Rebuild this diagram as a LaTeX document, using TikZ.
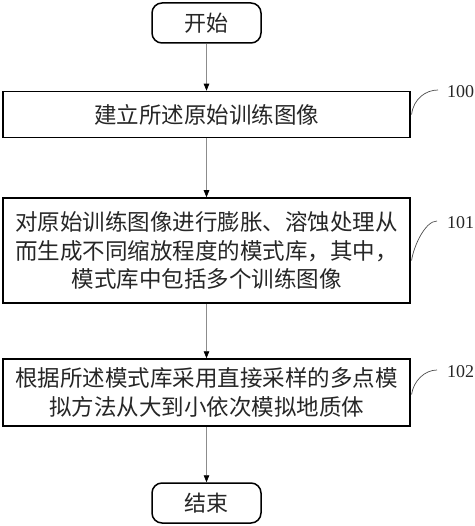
\documentclass[tikz,border=0pt]{standalone}
\usepackage{fontspec}
\setmainfont{Liberation Serif}
\newfontfamily\cjk{Noto Sans CJK SC}
\usetikzlibrary{arrows.meta,positioning}
\begin{document}
\begin{tikzpicture}[x=1pt,y=-1pt,
  stepbox/.style={draw=black,line width=1.5pt,minimum width=407pt,inner sep=0pt,align=center,
    font=\cjk\fontsize{22.5}{28.5}\selectfont,text=black!85},
  termbox/.style={draw=black,line width=1.5pt,rounded corners=10pt,minimum width=109pt,minimum height=40pt,
    inner sep=0pt,font=\cjk\fontsize{22}{26}\selectfont,text=black!85},
  flow/.style={draw=black!45,line width=0.8pt,-{Triangle[color=black,length=7pt,width=5.5pt]}},
  leader/.style={draw=black!70,line width=0.7pt},
  reflabel/.style={anchor=west,inner sep=0pt,font=\fontsize{18}{18}\selectfont,text=black!85}]
\useasboundingbox (0,0) rectangle (474,526);
\node[termbox] (start) at (206.5,23) {开始};
\node[stepbox,minimum height=46pt] (b1) at (206.5,114.5) {建立所述原始训练图像};
\node[stepbox,minimum height=105pt] (b2) at (206.5,250.5) {对原始训练图像进行膨胀、溶蚀处理从\\而生成不同缩放程度的模式库，其中，\\模式库中包括多个训练图像};
\node[stepbox,minimum height=67pt] (b3) at (206.5,392.5) {根据所述模式库采用直接采样的多点模\\拟方法从大到小依次模拟地质体};
\node[termbox] (end) at (206.5,503) {结束};
\draw[flow] (start) -- (b1);
\draw[flow] (b1) -- (b2);
\draw[flow] (b2) -- (b3);
\draw[flow] (b3) -- (end);
\coordinate (c0) at (438,90);
\coordinate (c1) at (437,221);
\coordinate (c2) at (437,370);
\node[reflabel] (l0) at (447,92) {100};
\node[reflabel] (l1) at (447,223) {101};
\node[reflabel] (l2) at (447,372) {102};
\draw[leader] ([xshift=0.8pt]b1.east) .. controls +(2,-16) and +(-12,0) .. (c0);
\draw[leader] ([xshift=0.8pt,yshift=-10pt]b2.east) .. controls +(2,-14) and +(-12,0) .. (c1);
\draw[leader] ([xshift=0.8pt,yshift=-2pt]b3.east) .. controls +(2,-14) and +(-12,0) .. (c2);
\end{tikzpicture}
\end{document}
